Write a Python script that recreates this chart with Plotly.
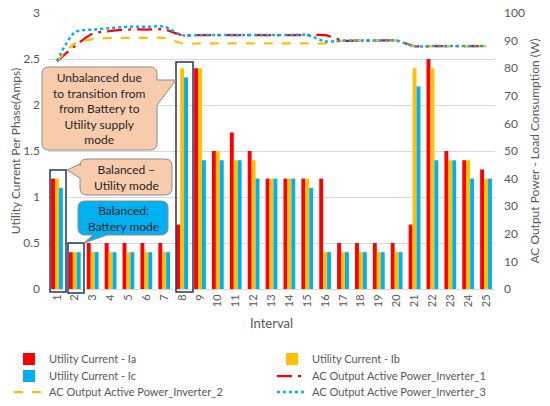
import plotly.graph_objects as go

# datos
intervals = list(range(1, 26))
current_ia = [1.2, 0.4, 0.5, 0.5, 0.5, 0.5, 0.5, 0.7, 2.4, 1.5, 1.7, 1.5, 1.2,
              1.2, 1.2, 1.2, 0.5, 0.5, 0.5, 0.5, 0.7, 2.5, 1.5, 1.4, 1.3]
current_ib = [1.2, 0.4, 0.4, 0.4, 0.4, 0.4, 0.4, 2.4, 2.4, 1.5, 1.4, 1.4, 1.2,
              1.2, 1.2, 0.4, 0.4, 0.4, 0.4, 0.4, 2.4, 2.4, 1.4, 1.4, 1.2]
current_ic = [1.1, 0.4, 0.4, 0.4, 0.4, 0.4, 0.4, 2.3, 1.4, 1.4, 1.4, 1.2, 1.2,
              1.2, 1.1, 0.4, 0.4, 0.4, 0.4, 0.4, 2.2, 1.4, 1.4, 1.2, 1.2]
power_inv1 = [82.5, 88, 92.5, 93.5, 94, 94, 94, 92, 92, 92, 92, 92, 92,
              92, 92, 92, 90, 90, 90, 90, 88, 88, 88, 88, 88]
power_inv2 = [82.5, 89, 90.5, 91, 91, 91, 91, 89, 89, 89, 89, 89, 89,
              89, 89, 89, 90, 90, 90, 90, 88, 88, 88, 88, 88]
power_inv3 = [82.5, 93, 94, 94.5, 95, 95, 95, 92, 92, 92, 92, 92, 92,
              92, 92, 89.7, 90, 90, 90, 90, 88, 88, 88, 88, 88]

RED = "#FF0000"
ORANGE = "#FFC000"
BLUE = "#00B0F0"
GREY = "#595959"
NAVY = "#1F3864"

# la pagina tiene 8px de margen en el body
PAGE = 8
FIG_W, FIG_H = 550 - PAGE, 406 - PAGE
# area del grafico en pixeles de la ventana
L, T, W, H = 48, 13, 447, 276


def to_paper(x, y):
    return (x - L) / W, (T + H - y) / H


def bubble_path(x0, y0, x1, y1, r, side, a, b, tip):
    pts = []
    pts.append(("M", [(x0 + r, y0)]))
    pts.append(("L", [(x1 - r, y0)]))
    pts.append(("Q", [(x1, y0), (x1, y0 + r)]))
    if side == "right":
        pts += [("L", [(x1, a)]), ("L", [tip]), ("L", [(x1, b)])]
    pts.append(("L", [(x1, y1 - r)]))
    pts.append(("Q", [(x1, y1), (x1 - r, y1)]))
    if side == "bottom":
        pts += [("L", [(b, y1)]), ("L", [tip]), ("L", [(a, y1)])]
    pts.append(("L", [(x0 + r, y1)]))
    pts.append(("Q", [(x0, y1), (x0, y1 - r)]))
    if side == "left":
        pts += [("L", [(x0, b)]), ("L", [tip]), ("L", [(x0, a)])]
    pts.append(("L", [(x0, y0 + r)]))
    pts.append(("Q", [(x0, y0), (x0 + r, y0)]))
    out = []
    for cmd, coords in pts:
        s = " ".join("%.5f,%.5f" % to_paper(*c) for c in coords)
        out.append(cmd + " " + s)
    return " ".join(out) + " Z"


fig = go.Figure()

fig.add_trace(go.Bar(x=intervals, y=current_ia, name="Utility Current - Ia",
                     marker_color=RED, marker_line_width=0, legend="legend"))
fig.add_trace(go.Bar(x=intervals, y=current_ib, name="Utility Current - Ib",
                     marker_color=ORANGE, marker_line_width=0, legend="legend2"))
fig.add_trace(go.Bar(x=intervals, y=current_ic, name="Utility Current - Ic",
                     marker_color=BLUE, marker_line_width=0, legend="legend3"))

fig.add_trace(go.Scatter(x=intervals, y=power_inv1, yaxis="y2", mode="lines",
                         name="AC Output Active Power_Inverter_1", legend="legend4",
                         line=dict(color=RED, width=2.25, dash="longdashdot",
                                   shape="spline", smoothing=0.8)))
fig.add_trace(go.Scatter(x=intervals, y=power_inv2, yaxis="y2", mode="lines",
                         name="AC Output Active Power_Inverter_2", legend="legend5",
                         line=dict(color=ORANGE, width=2.25, dash="dash",
                                   shape="spline", smoothing=0.8)))
fig.add_trace(go.Scatter(x=intervals, y=power_inv3, yaxis="y2", mode="lines",
                         name="AC Output Active Power_Inverter_3", legend="legend6",
                         line=dict(color=BLUE, width=2.5, dash="dot",
                                   shape="spline", smoothing=0.8)))

shapes = []
# recuadros alrededor de los intervalos
for x0, y0, x1, y1 in [(50, 170, 66, 292), (68, 243, 84, 293), (176, 62, 193, 292)]:
    px0, py0 = to_paper(x0, y1)
    px1, py1 = to_paper(x1, y0)
    shapes.append(dict(type="rect", xref="paper", yref="paper", x0=px0, y0=py0,
                       x1=px1, y1=py1, line=dict(color=NAVY, width=1.5),
                       fillcolor="rgba(0,0,0,0)"))

# globos de texto
bubbles = [
    (42, 67, 157, 150, "right", 80, 105, (176, 80), "#F8CBAD",
     "Unbalanced due<br>to transition from<br>from Battery to<br>Utility supply<br>mode"),
    (80, 159, 172, 195, "left", 164, 178, (67, 170), "#F8CBAD",
     "Balanced \u2013<br>Utility mode"),
    (78, 201, 168, 235, "bottom", 93, 107, (84, 243), "#00B0F0",
     "Balanced:<br>Battery mode"),
]
annotations = []
for x0, y0, x1, y1, side, a, b, tip, fill, text in bubbles:
    shapes.append(dict(type="path", xref="paper", yref="paper",
                       path=bubble_path(x0, y0, x1, y1, 7, side, a, b, tip),
                       fillcolor=fill, line=dict(color="#8C8C8C", width=1)))
    cx, cy = to_paper((x0 + x1) / 2, (y0 + y1) / 2)
    annotations.append(dict(xref="paper", yref="paper", x=cx, y=cy, text=text,
                            xanchor="center", yanchor="middle",
                            showarrow=False, align="center",
                            font=dict(size=12, color="#262626")))

# una leyenda por entrada: dos columnas, tres filas
legend_slots = [(9, 359), (272, 359), (9, 376), (272, 376), (9, 392), (272, 392)]
legends = {}
for i, (lx, ly) in enumerate(legend_slots):
    key = "legend" if i == 0 else "legend%d" % (i + 1)
    px_, py_ = to_paper(lx, ly)
    legends[key] = dict(orientation="v", x=px_, xanchor="left", y=py_,
                        yanchor="middle", bgcolor="rgba(0,0,0,0)",
                        font=dict(size=11, color=GREY))

fig.update_layout(
    width=FIG_W,
    height=FIG_H,
    margin=dict(l=L - PAGE, r=FIG_W - (L - PAGE) - W, t=T - PAGE,
                b=FIG_H - (T - PAGE) - H, autoexpand=False),
    paper_bgcolor="white",
    plot_bgcolor="white",
    font=dict(family="Lato", color=GREY, size=12),
    barmode="group",
    bargap=0.34,
    bargroupgap=0.0,
    showlegend=True,
    xaxis=dict(range=[0.5, 25.5], tickmode="array", tickvals=intervals,
               ticktext=[str(i) for i in intervals], tickangle=-90,
               tickfont=dict(size=11), showgrid=False, showline=True,
               linecolor="#D9D9D9", ticks="", automargin=False,
               title=dict(text="Interval", font=dict(size=13), standoff=12)),
    yaxis=dict(range=[0, 3], dtick=0.5, showgrid=True, gridcolor="#D9D9D9",
               zeroline=False, ticks="", automargin=False,
               ticklabelstandoff=7, ticklabeloverflow="allow",
               title=dict(text="Utility Current Per Phase(Amps)", font=dict(size=12),
                          standoff=3)),
    yaxis2=dict(range=[0, 100], dtick=10, overlaying="y", side="right",
                showgrid=False, zeroline=False, ticks="", automargin=False,
                ticklabelstandoff=8, ticklabeloverflow="allow",
                title=dict(text="AC Output Power - Load Consumption (W)",
                           font=dict(size=12), standoff=6)),
    shapes=shapes,
    annotations=annotations,
    **legends,
)

fig.write_html("out.html")
